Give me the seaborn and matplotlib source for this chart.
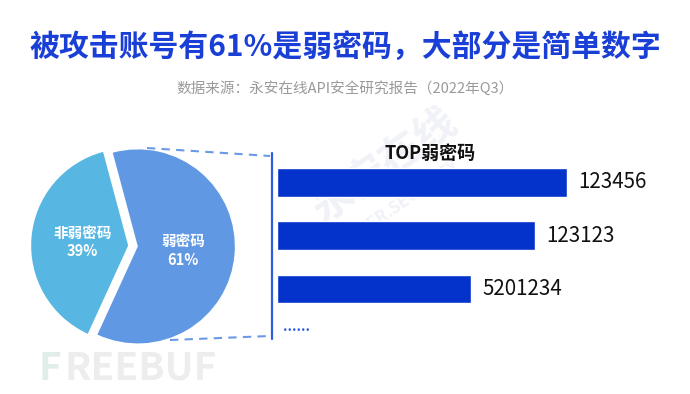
import matplotlib
matplotlib.use("Agg")
import matplotlib.pyplot as plt
from matplotlib.lines import Line2D
import seaborn as sns
import pandas as pd

# ---------------- data ----------------
title = "被攻击账号有61%是弱密码，大部分是简单数字"
subtitle = "数据来源：永安在线API安全研究报告（2022年Q3）"
pie_labels = ["非弱密码", "弱密码"]
pie_values = [39, 61]
pie_colors = ["#58B6E2", "#6098E4"]
bar_title = "TOP弱密码"
passwords = ["123456", "123123", "5201234"]
bar_values = [100, 89, 67]          # relative bar lengths
bar_color = "#0433CC"

sns.set_style("white")
plt.rcParams["font.family"] = ["Noto Sans CJK SC", "DejaVu Sans"]

W, H = 690, 394
fig = plt.figure(figsize=(W / 100, H / 100), dpi=100)
fig.patch.set_facecolor("white")


def fx(px):
    return px / W


def fy(py):
    return (H - py) / H


# ---------------- watermarks (faint, behind everything) ----------------
fig.text(fx(385), fy(165), "永安在线", fontsize=30, fontweight="bold", color="#F0F2F7",
         rotation=35, ha="center", va="center", zorder=-5)
fig.text(fx(405), fy(200), "EVER.SECURITY", fontsize=12, fontweight="bold", color="#F0F2F7",
         rotation=35, ha="center", va="center", zorder=-5)
fig.text(fx(38), fy(368), "F", fontsize=28, fontweight="bold", color="#E0EEE7",
         ha="left", va="center", zorder=-5)
fig.text(fx(64), fy(368), "REEBUF", fontsize=28, fontweight="bold", color="#EDEDED",
         ha="left", va="center", zorder=-5)

# ---------------- titles ----------------
fig.text(fx(345), fy(47), title, fontsize=21.5, fontweight="bold", color="#1A3FD6",
         ha="center", va="center")
fig.text(fx(345), fy(88), subtitle, fontsize=10.5, color="#9A9A9A",
         ha="center", va="center")

# ---------------- pie ----------------
R = 97.0
cx, cy = 133, 246
size = 230
axp = fig.add_axes([fx(cx - size / 2), fy(cy + size / 2), size / W, size / H])
axp.set_zorder(1)
lim = size / 2 / R
texts = axp.pie(pie_values, colors=pie_colors, startangle=105, counterclock=True,
                explode=(0.05, 0.05),
                labels=[f"{l}\n{v}%" for l, v in zip(pie_labels, pie_values)],
                labeldistance=0.47,
                wedgeprops=dict(linewidth=0),
                textprops=dict(color="white", fontsize=10.5, fontweight="bold",
                               linespacing=1.2))[1]
for t in texts:
    t.set_ha("center")
    t.set_va("center")
axp.set_xlim(-lim, lim)
axp.set_ylim(-lim, lim)
axp.set_aspect("equal")
axp.axis("off")
axp.patch.set_alpha(0)

# ---------------- bars ----------------
bar_left, bar_right_px = 277, 680
top_px, bot_px = 155.75, 315.75
axb = fig.add_axes([fx(bar_left), fy(bot_px), (bar_right_px - bar_left) / W, (bot_px - top_px) / H])
axb.set_zorder(1)
df = pd.DataFrame({"password": passwords, "value": bar_values})
sns.barplot(data=df, x="value", y="password", orient="h", color=bar_color,
            saturation=1, width=0.54, ax=axb)
px_per_unit = 290 / bar_values[0]
axb.set_xlim(0, (bar_right_px - bar_left) / px_per_unit)
axb.set_ylim(2.5, -0.5)
for i, (p, v) in enumerate(zip(passwords, bar_values)):
    axb.text(v + 11 / px_per_unit, i, p, fontsize=14.8, fontweight="medium", color="#111111",
             ha="left", va="center", clip_on=False)
axb.text(2 / px_per_unit + 1.5, 2.72, "......", fontsize=10, fontweight="bold",
         color="#2A5AE0", ha="left", va="center", clip_on=False)
axb.set_xlabel("")
axb.set_ylabel("")
axb.set_xticks([])
axb.set_yticks([])
for s in axb.spines.values():
    s.set_visible(False)
axb.patch.set_alpha(0)

fig.text(fx(430), fy(153), bar_title, fontsize=13, fontweight="bold", color="#111111",
         ha="center", va="center")

# ---------------- connectors ----------------
dash_col = "#6A9AE6"
fig.add_artist(Line2D([fx(147), fx(270)], [fy(148), fy(156)], transform=fig.transFigure,
                      color=dash_col, lw=1.5, ls=(0, (4, 3))))
fig.add_artist(Line2D([fx(170), fx(270)], [fy(340), fy(336)], transform=fig.transFigure,
                      color=dash_col, lw=1.5, ls=(0, (4, 3))))
fig.add_artist(Line2D([fx(272), fx(272)], [fy(153), fy(339)], transform=fig.transFigure,
                      color="#2F5FE0", lw=1.6))

fig.savefig("out.png", dpi=100, facecolor="white")
